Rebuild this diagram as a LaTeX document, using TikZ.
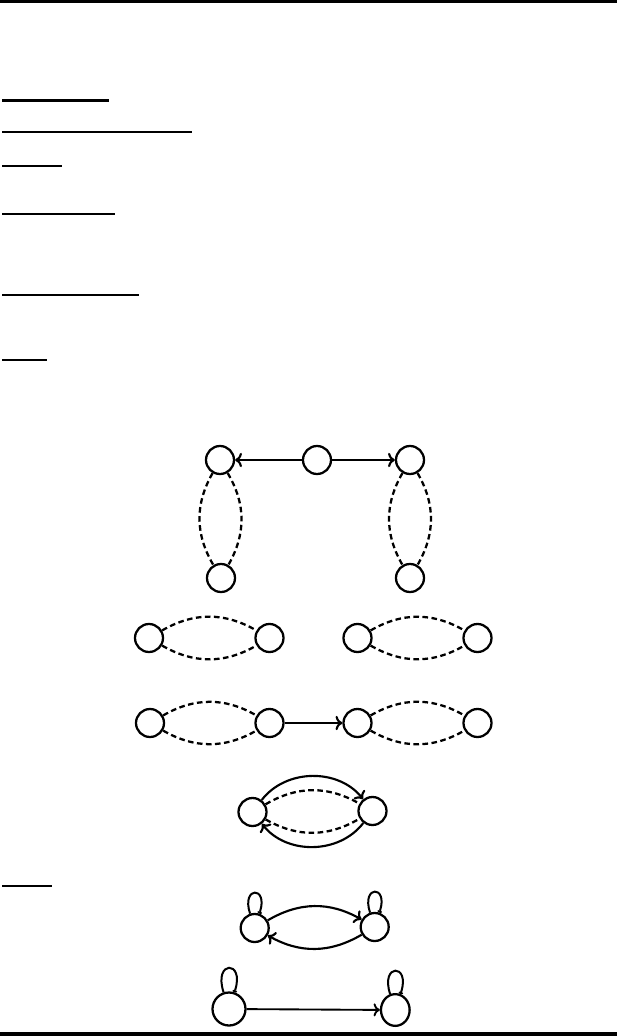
\documentclass[tikz,border=0pt]{standalone}
\usetikzlibrary{shapes.geometric,arrows.meta}
\begin{document}
\begin{tikzpicture}[x=0.75pt,y=-0.75pt,
  st/.style={circle,draw,line width=1.7pt,minimum size=21pt,inner sep=0pt},
  bigst/.style={circle,draw,line width=1.7pt,minimum size=24.75pt,inner sep=0pt},
  ellst/.style={ellipse,draw,line width=1.7pt,minimum width=21.5pt,minimum height=23.8pt,inner sep=0pt},
  dsh/.style={line width=1.7pt,dash pattern=on 4.2pt off 2.6pt},
  arr/.style={line width=1.6pt,->},
  lp/.style={line width=1.5pt,-{To[length=1.6pt,width=3.6pt]},out=108,in=72,looseness=8,min distance=11.5pt},
  ulthick/.style={line width=1.9pt},
  ulthin/.style={line width=1.1pt},
  rule/.style={line width=2.4pt}]
\useasboundingbox (0,0) rectangle (617,1036);
% rules
\coordinate (t1) at (0,1.3); \coordinate (t2) at (617,1.3);
\draw[rule] (t1) -- (t2);
\coordinate (b1) at (0,1034); \coordinate (b2) at (617,1034);
\draw[line width=3pt] (b1) -- (b2);
% underlines
\coordinate (u1a) at (2,100.7); \coordinate (u1b) at (109,100.7);
\coordinate (u2a) at (2,132); \coordinate (u2b) at (192,132);
\coordinate (u3a) at (2,166); \coordinate (u3b) at (62,166);
\coordinate (u4a) at (2,214); \coordinate (u4b) at (115,214);
\coordinate (u5a) at (2,295); \coordinate (u5b) at (139,295);
\coordinate (u6a) at (2,360); \coordinate (u6b) at (47,360);
\coordinate (u7a) at (2,886); \coordinate (u7b) at (52,886);
\draw[ulthick] (u1a) -- (u1b);
\draw[ulthin] (u2a) -- (u2b);
\draw[ulthick] (u3a) -- (u3b);
\draw[ulthick] (u4a) -- (u4b);
\draw[ulthick] (u5a) -- (u5b);
\draw[ulthick] (u6a) -- (u6b);
\draw[ulthin] (u7a) -- (u7b);
% group 1
\node[st] (A) at (220,460) {};
\node[st] (B) at (317,460) {};
\node[st] (C) at (410,460) {};
\node[st] (D) at (221,578) {};
\node[st] (E) at (410,578) {};
\draw[arr] (B) -- (A);
\draw[arr] (B) -- (C);
\draw[dsh] (A) to[bend left] (D);
\draw[dsh] (A) to[bend right] (D);
\draw[dsh] (C) to[bend left] (E);
\draw[dsh] (C) to[bend right] (E);
% row 2
\node[st] (F) at (149,638) {};
\node[st] (G) at (269.5,638) {};
\node[st] (H) at (357.5,638) {};
\node[st] (I) at (477.5,638) {};
\draw[dsh] (F) to[bend left] (G);
\draw[dsh] (F) to[bend right] (G);
\draw[dsh] (H) to[bend left] (I);
\draw[dsh] (H) to[bend right] (I);
% row 3
\node[st] (J) at (150,723) {};
\node[st] (K) at (269.5,723) {};
\node[st] (L) at (357.5,723) {};
\node[st] (M) at (477.5,723) {};
\draw[dsh] (J) to[bend left] (K);
\draw[dsh] (J) to[bend right] (K);
\draw[dsh] (L) to[bend left] (M);
\draw[dsh] (L) to[bend right] (M);
\draw[arr] (K) -- (L);
% row 4
\node[st] (N) at (252.5,812) {};
\node[st] (O) at (372.5,811) {};
\draw[arr] (N) to[bend left=52] (O);
\draw[arr] (O) to[bend left=52] (N);
\draw[dsh] (N) to[bend left] (O);
\draw[dsh] (N) to[bend right] (O);
% row 5
\node[st] (P) at (254.7,928) {};
\node[st] (Q) at (374.7,927) {};
\draw[arr] (P) to[bend left] (Q);
\draw[arr] (Q) to[bend left] (P);
\draw[lp] (P) to (P);
\draw[lp] (Q) to (Q);
% row 6
\node[bigst] (R) at (229,1009) {};
\node[ellst] (S) at (395.3,1010) {};
\draw[line width=1.4pt,->] (R) -- (S);
\draw[lp] (R) to (R);
\draw[lp] (S) to (S);
\end{tikzpicture}
\end{document}
